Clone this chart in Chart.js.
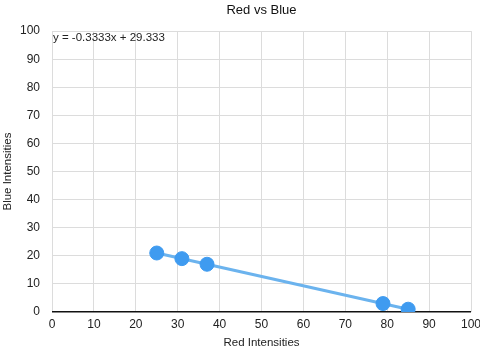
<!DOCTYPE html>
<html>
<head>
<meta charset="utf-8">
<script src="https://cdn.jsdelivr.net/npm/chart.js@4"></script>
<style>
  html, body { margin: 0; padding: 0; background: #fff; }
  #wrap { width: 480px; height: 350px; }
</style>
</head>
<body>
<div id="wrap"><canvas id="chart" width="480" height="350"></canvas></div>
<script>
// red / blue intensity samples
var redValues = [25, 31, 37, 79, 85];
var blueValues = [21, 19, 17, 3, 1];
var axisTicks = [0, 10, 20, 30, 40, 50, 60, 70, 80, 90, 100];

// linear fit shown on the chart
var slope = -0.3333;
var intercept = 29.333;
var trendLabel = "y = -0.3333x + 29.333";

var points = redValues.map(function (r, i) { return { x: r, y: blueValues[i] }; });
var xMin = Math.min.apply(null, redValues);
var xMax = Math.max.apply(null, redValues);
var trend = [
  { x: xMin, y: slope * xMin + intercept },
  { x: xMax, y: slope * xMax + intercept }
];

var fontFamily = "'Liberation Sans', Arial, Helvetica, sans-serif";

var equationPlugin = {
  id: 'equation',
  afterDatasetsDraw: function (chart) {
    var ctx = chart.ctx;
    var area = chart.chartArea;
    ctx.save();
    ctx.font = "11.5px " + fontFamily;
    ctx.fillStyle = "#222";
    ctx.textBaseline = "middle";
    ctx.fillText(trendLabel, area.left + 1, area.top + 7);
    ctx.restore();
  }
};

var ctx = document.getElementById("chart").getContext("2d");
var myChart = new Chart(ctx, {
  type: 'scatter',
  data: {
    datasets: [
      {
        label: 'Blue',
        data: points,
        backgroundColor: '#3f9bf0',
        borderColor: '#3f9bf0',
        pointRadius: 7,
        pointHoverRadius: 7,
        order: 1
      },
      {
        label: 'Trend',
        type: 'line',
        data: trend,
        borderColor: '#6bb3ee',
        borderWidth: 3,
        pointRadius: 0,
        fill: false,
        order: 2
      }
    ]
  },
  plugins: [equationPlugin],
  options: {
    responsive: false,
    animation: false,
    layout: { padding: { left: 0, right: 9, top: 0, bottom: 0 } },
    plugins: {
      legend: { display: false },
      tooltip: { enabled: false },
      title: {
        display: true,
        fullSize: false,
        text: 'Red vs Blue',
        color: '#111',
        font: { family: fontFamily, size: 13, weight: 'normal' },
        padding: { top: 3, bottom: 12.5 }
      }
    },
    scales: {
      x: {
        type: 'linear',
        min: 0,
        max: 100,
        afterBuildTicks: function (axis) {
          axis.ticks = axisTicks.map(function (v) { return { value: v }; });
        },
        afterFit: function (axis) {
          // let the "100" label run past the plot edge
          axis.paddingRight = 0;
          axis.height = 38;
        },
        grid: { color: '#dcdcdc', drawTicks: false },
        border: { display: false },
        ticks: {
          color: '#222',
          padding: 5,
          maxRotation: 0,
          font: { family: fontFamily, size: 12 }
        },
        title: {
          display: true,
          text: 'Red Intensities',
          color: '#222',
          font: { family: fontFamily, size: 11.5 },
          padding: { top: 2, bottom: 0 }
        }
      },
      y: {
        type: 'linear',
        min: 0,
        max: 100,
        afterBuildTicks: function (axis) {
          axis.ticks = axisTicks.map(function (v) { return { value: v }; });
        },
        afterFit: function (axis) {
          axis.width = 52;
        },
        grid: {
          color: function (c) { return c.tick.value === 0 ? '#111' : '#dcdcdc'; },
          lineWidth: function (c) { return c.tick.value === 0 ? 1.5 : 1; },
          drawTicks: false
        },
        border: { display: false },
        ticks: {
          color: '#222',
          padding: 12,
          font: { family: fontFamily, size: 12 }
        },
        title: {
          display: true,
          text: 'Blue Intensities',
          color: '#222',
          font: { family: fontFamily, size: 11.5 },
          padding: { top: 1, bottom: 0 }
        }
      }
    }
  }
});
</script>
</body>
</html>
